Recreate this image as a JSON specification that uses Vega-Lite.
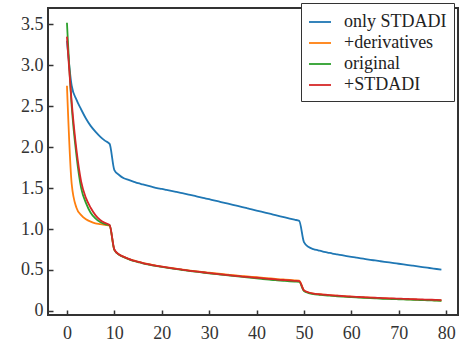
{
  "$schema": "https://vega.github.io/schema/vega-lite/v6.json",
  "width": 410,
  "height": 307,
  "autosize": {"type": "none"},
  "padding": {"left": 48, "top": 8, "right": 16, "bottom": 37},
  "background": "white",
  "config": {
    "view": {"stroke": "#333333", "strokeWidth": 2},
    "font": "'Liberation Serif', 'DejaVu Serif', serif"
  },
  "data": {"values": [
    {"epoch":0,"only STDADI":3.30,"+derivatives":2.75,"original":3.52,"+STDADI":3.35},
    {"epoch":1,"only STDADI":2.75,"+derivatives":1.55,"original":2.50,"+STDADI":2.55},
    {"epoch":2,"only STDADI":2.58,"+derivatives":1.26,"original":1.90,"+STDADI":1.97},
    {"epoch":3,"only STDADI":2.46,"+derivatives":1.17,"original":1.50,"+STDADI":1.58},
    {"epoch":4,"only STDADI":2.35,"+derivatives":1.12,"original":1.32,"+STDADI":1.38},
    {"epoch":5,"only STDADI":2.26,"+derivatives":1.09,"original":1.20,"+STDADI":1.26},
    {"epoch":6,"only STDADI":2.19,"+derivatives":1.07,"original":1.13,"+STDADI":1.17},
    {"epoch":7,"only STDADI":2.13,"+derivatives":1.06,"original":1.085,"+STDADI":1.11},
    {"epoch":8,"only STDADI":2.08,"+derivatives":1.05,"original":1.06,"+STDADI":1.075},
    {"epoch":9,"only STDADI":2.04,"+derivatives":1.04,"original":1.045,"+STDADI":1.05},
    {"epoch":10,"only STDADI":1.72,"+derivatives":0.745,"original":0.745,"+STDADI":0.75},
    {"epoch":11,"only STDADI":1.66,"+derivatives":0.69,"original":0.687,"+STDADI":0.69},
    {"epoch":12,"only STDADI":1.62,"+derivatives":0.66,"original":0.657,"+STDADI":0.66},
    {"epoch":13,"only STDADI":1.60,"+derivatives":0.636,"original":0.632,"+STDADI":0.635},
    {"epoch":14,"only STDADI":1.58,"+derivatives":0.616,"original":0.612,"+STDADI":0.615},
    {"epoch":15,"only STDADI":1.56,"+derivatives":0.601,"original":0.597,"+STDADI":0.60},
    {"epoch":16,"only STDADI":1.545,"+derivatives":0.586,"original":0.582,"+STDADI":0.585},
    {"epoch":17,"only STDADI":1.53,"+derivatives":0.573,"original":0.569,"+STDADI":0.572},
    {"epoch":18,"only STDADI":1.515,"+derivatives":0.561,"original":0.557,"+STDADI":0.56},
    {"epoch":19,"only STDADI":1.50,"+derivatives":0.551,"original":0.547,"+STDADI":0.55},
    {"epoch":20,"only STDADI":1.49,"+derivatives":0.542,"original":0.537,"+STDADI":0.54},
    {"epoch":21,"only STDADI":1.478,"+derivatives":0.533,"original":0.528,"+STDADI":0.531},
    {"epoch":22,"only STDADI":1.466,"+derivatives":0.524,"original":0.519,"+STDADI":0.522},
    {"epoch":23,"only STDADI":1.454,"+derivatives":0.516,"original":0.511,"+STDADI":0.514},
    {"epoch":24,"only STDADI":1.442,"+derivatives":0.508,"original":0.503,"+STDADI":0.506},
    {"epoch":25,"only STDADI":1.43,"+derivatives":0.50,"original":0.495,"+STDADI":0.498},
    {"epoch":26,"only STDADI":1.417,"+derivatives":0.493,"original":0.487,"+STDADI":0.49},
    {"epoch":27,"only STDADI":1.404,"+derivatives":0.486,"original":0.48,"+STDADI":0.483},
    {"epoch":28,"only STDADI":1.39,"+derivatives":0.479,"original":0.473,"+STDADI":0.476},
    {"epoch":29,"only STDADI":1.377,"+derivatives":0.472,"original":0.466,"+STDADI":0.469},
    {"epoch":30,"only STDADI":1.364,"+derivatives":0.466,"original":0.459,"+STDADI":0.462},
    {"epoch":31,"only STDADI":1.35,"+derivatives":0.46,"original":0.452,"+STDADI":0.456},
    {"epoch":32,"only STDADI":1.337,"+derivatives":0.454,"original":0.446,"+STDADI":0.45},
    {"epoch":33,"only STDADI":1.323,"+derivatives":0.448,"original":0.44,"+STDADI":0.444},
    {"epoch":34,"only STDADI":1.31,"+derivatives":0.442,"original":0.433,"+STDADI":0.438},
    {"epoch":35,"only STDADI":1.296,"+derivatives":0.436,"original":0.427,"+STDADI":0.432},
    {"epoch":36,"only STDADI":1.282,"+derivatives":0.431,"original":0.421,"+STDADI":0.426},
    {"epoch":37,"only STDADI":1.268,"+derivatives":0.426,"original":0.415,"+STDADI":0.42},
    {"epoch":38,"only STDADI":1.254,"+derivatives":0.421,"original":0.409,"+STDADI":0.415},
    {"epoch":39,"only STDADI":1.24,"+derivatives":0.416,"original":0.403,"+STDADI":0.41},
    {"epoch":40,"only STDADI":1.226,"+derivatives":0.411,"original":0.397,"+STDADI":0.405},
    {"epoch":41,"only STDADI":1.212,"+derivatives":0.406,"original":0.391,"+STDADI":0.40},
    {"epoch":42,"only STDADI":1.198,"+derivatives":0.401,"original":0.385,"+STDADI":0.395},
    {"epoch":43,"only STDADI":1.184,"+derivatives":0.396,"original":0.38,"+STDADI":0.39},
    {"epoch":44,"only STDADI":1.17,"+derivatives":0.391,"original":0.375,"+STDADI":0.385},
    {"epoch":45,"only STDADI":1.156,"+derivatives":0.386,"original":0.37,"+STDADI":0.38},
    {"epoch":46,"only STDADI":1.142,"+derivatives":0.382,"original":0.366,"+STDADI":0.376},
    {"epoch":47,"only STDADI":1.128,"+derivatives":0.378,"original":0.362,"+STDADI":0.372},
    {"epoch":48,"only STDADI":1.114,"+derivatives":0.374,"original":0.358,"+STDADI":0.368},
    {"epoch":49,"only STDADI":1.10,"+derivatives":0.37,"original":0.354,"+STDADI":0.364},
    {"epoch":50,"only STDADI":0.84,"+derivatives":0.25,"original":0.242,"+STDADI":0.25},
    {"epoch":51,"only STDADI":0.78,"+derivatives":0.224,"original":0.218,"+STDADI":0.225},
    {"epoch":52,"only STDADI":0.755,"+derivatives":0.211,"original":0.205,"+STDADI":0.212},
    {"epoch":53,"only STDADI":0.74,"+derivatives":0.204,"original":0.198,"+STDADI":0.205},
    {"epoch":54,"only STDADI":0.725,"+derivatives":0.199,"original":0.193,"+STDADI":0.20},
    {"epoch":55,"only STDADI":0.713,"+derivatives":0.194,"original":0.188,"+STDADI":0.195},
    {"epoch":56,"only STDADI":0.70,"+derivatives":0.189,"original":0.183,"+STDADI":0.19},
    {"epoch":57,"only STDADI":0.69,"+derivatives":0.185,"original":0.179,"+STDADI":0.186},
    {"epoch":58,"only STDADI":0.68,"+derivatives":0.181,"original":0.175,"+STDADI":0.182},
    {"epoch":59,"only STDADI":0.67,"+derivatives":0.177,"original":0.171,"+STDADI":0.178},
    {"epoch":60,"only STDADI":0.66,"+derivatives":0.173,"original":0.168,"+STDADI":0.175},
    {"epoch":61,"only STDADI":0.651,"+derivatives":0.17,"original":0.165,"+STDADI":0.172},
    {"epoch":62,"only STDADI":0.642,"+derivatives":0.167,"original":0.162,"+STDADI":0.169},
    {"epoch":63,"only STDADI":0.633,"+derivatives":0.164,"original":0.159,"+STDADI":0.166},
    {"epoch":64,"only STDADI":0.624,"+derivatives":0.161,"original":0.156,"+STDADI":0.163},
    {"epoch":65,"only STDADI":0.616,"+derivatives":0.158,"original":0.153,"+STDADI":0.161},
    {"epoch":66,"only STDADI":0.608,"+derivatives":0.155,"original":0.15,"+STDADI":0.158},
    {"epoch":67,"only STDADI":0.60,"+derivatives":0.153,"original":0.148,"+STDADI":0.156},
    {"epoch":68,"only STDADI":0.592,"+derivatives":0.151,"original":0.146,"+STDADI":0.154},
    {"epoch":69,"only STDADI":0.584,"+derivatives":0.148,"original":0.144,"+STDADI":0.152},
    {"epoch":70,"only STDADI":0.576,"+derivatives":0.146,"original":0.142,"+STDADI":0.15},
    {"epoch":71,"only STDADI":0.568,"+derivatives":0.144,"original":0.14,"+STDADI":0.148},
    {"epoch":72,"only STDADI":0.56,"+derivatives":0.142,"original":0.138,"+STDADI":0.146},
    {"epoch":73,"only STDADI":0.552,"+derivatives":0.14,"original":0.136,"+STDADI":0.144},
    {"epoch":74,"only STDADI":0.544,"+derivatives":0.137,"original":0.134,"+STDADI":0.142},
    {"epoch":75,"only STDADI":0.536,"+derivatives":0.135,"original":0.132,"+STDADI":0.14},
    {"epoch":76,"only STDADI":0.528,"+derivatives":0.133,"original":0.13,"+STDADI":0.138},
    {"epoch":77,"only STDADI":0.52,"+derivatives":0.131,"original":0.128,"+STDADI":0.136},
    {"epoch":78,"only STDADI":0.512,"+derivatives":0.129,"original":0.126,"+STDADI":0.134},
    {"epoch":79,"only STDADI":0.505,"+derivatives":0.127,"original":0.124,"+STDADI":0.132}
  ]},
  "transform": [
    {"fold": ["only STDADI", "+derivatives", "original", "+STDADI"], "as": ["series", "loss"]}
  ],
  "mark": {"type": "line", "strokeWidth": 1.8, "clip": true, "interpolate": "monotone"},
  "encoding": {
    "x": {
      "field": "epoch", "type": "quantitative",
      "scale": {"domain": [-4, 82.5], "nice": false, "zero": false},
      "axis": {
        "title": null, "values": [0,10,20,30,40,50,60,70,80],
        "domain": false, "grid": false,
        "tickSize": -5, "tickColor": "#333333", "tickWidth": 1.5,
        "labelPadding": 14, "labelFontSize": 18, "labelColor": "#333333",
        "labelFont": "'Liberation Serif', 'DejaVu Serif', serif"
      }
    },
    "y": {
      "field": "loss", "type": "quantitative",
      "scale": {"domain": [-0.05, 3.7], "nice": false, "zero": false},
      "axis": {
        "title": null, "values": [0,0.5,1,1.5,2,2.5,3,3.5],
        "labelExpr": "datum.value == 0 ? '0' : format(datum.value, '.1f')",
        "domain": false, "grid": false,
        "tickSize": -5, "tickColor": "#333333", "tickWidth": 1.5,
        "labelPadding": 10, "labelFontSize": 18, "labelColor": "#333333",
        "labelFont": "'Liberation Serif', 'DejaVu Serif', serif"
      }
    },
    "color": {
      "field": "series", "type": "nominal",
      "sort": ["only STDADI", "+derivatives", "original", "+STDADI"],
      "scale": {
        "domain": ["only STDADI", "+derivatives", "original", "+STDADI"],
        "range": ["#1f77b4", "#ff7f0e", "#2ca02c", "#d62728"]
      },
      "legend": {
        "title": null, "orient": "none", "legendX": 253, "legendY": -5,
        "strokeColor": "#333333", "fillColor": "white", "padding": 7,
        "symbolType": "stroke", "symbolSize": 484, "symbolStrokeWidth": 1.8,
        "rowPadding": 0, "labelOffset": 12,
        "labelFontSize": 18, "labelFont": "'Liberation Serif', 'DejaVu Serif', serif", "labelColor": "#222222",
        "labelLimit": 200
      }
    }
  }
}
